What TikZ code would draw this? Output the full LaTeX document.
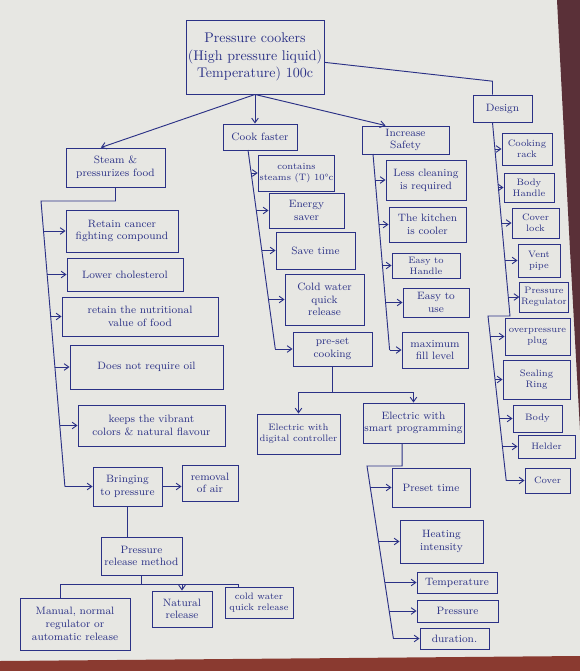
\documentclass[tikz,border=0pt]{standalone}
\usetikzlibrary{arrows.meta}
\definecolor{ink}{HTML}{2B3186}
\definecolor{paper}{HTML}{E7E7E3}
\definecolor{fabric}{HTML}{5A3038}
\definecolor{floor}{HTML}{8A3A30}
\tikzset{
  bx/.style={draw=ink, line width=0.7pt, inner sep=1pt, align=center, text=ink, font=\fontsize{8}{9.5}\selectfont},
  sm/.style={font=\fontsize{7}{8.2}\selectfont},
  big/.style={font=\fontsize{10.5}{13}\selectfont},
  ln/.style={draw=ink, line width=0.7pt},
  arr/.style={ln, -{Straight Barb[length=3.5pt,width=5pt]}},
}
\newcommand{\bx}[7][]{\node[bx,#1, minimum width={(#5-#3)*0.75pt}, minimum height={(#6-#4)*0.75pt}] (#2) at ({(#3+#5)/2},{(#4+#6)/2}) {#7};}
\begin{document}
\begin{tikzpicture}[x=0.75pt,y=-0.75pt]
\useasboundingbox (0,0) rectangle (580,671);
\fill[paper] (0,0) rectangle (580,671);
\fill[fabric] (557,0) -- (580,0) -- (580,430) -- (570,250) -- cycle;
\fill[floor] (0,661) -- (580,656) -- (580,671) -- (0,671) -- cycle;

% root and main branches
\bx[big]{root}{186}{20}{324}{94}{Pressure cookers\\(High pressure liquid)\\Temperature) 100c}
\bx{steam}{66}{148}{165}{187}{Steam \&\\pressurizes food}
\bx{cook}{223}{124}{297}{150}{Cook faster}
\bx{safe}{362}{126}{449}{154}{Increase\\Safety}
\bx{design}{473}{95}{532}{122}{Design}

\draw[arr] (root.south) -- (root.south |- cook.north);
\draw[arr] (root.south) -- ([xshift=-11pt]steam.north);
\draw[arr] (root.south) -- ([xshift=-15pt]safe.north);
\draw[ln] ([yshift=-4pt]root.east) -- ([xshift=-7.5pt,yshift=10pt]design.north) -- ([xshift=-7.5pt]design.north);

% steam branch
\bx{ret}{66}{210}{178}{252}{Retain cancer\\fighting compound}
\bx{chol}{67}{258}{183}{291}{Lower cholesterol}
\bx{nut}{62}{297}{218}{336}{retain the nutritional\\value of food}
\bx{oil}{70}{345}{223}{389}{Does not require oil}
\bx{vib}{78}{405}{225}{446}{keeps the vibrant\\colors \& natural flavour}
\bx{bring}{93}{467}{162}{506}{Bringing\\to pressure}
\bx{air}{182}{465}{238}{501}{removal\\of air}
\bx{prm}{101}{537}{182}{575}{Pressure\\release method}
\bx{man}{20}{598}{130}{650}{Manual, normal\\regulator or\\automatic release}
\bx{nat}{152}{591}{212}{627}{Natural\\release}
\bx[sm]{cold}{225}{587}{293}{618}{cold water\\quick release}

\coordinate (sA) at (41,201);
\coordinate (sB) at (64.9,486.5);
\coordinate (s1) at (43.5,231);
\coordinate (s2) at (47.1,274.5);
\coordinate (s3) at (50.7,316.5);
\coordinate (s4) at (54.9,367);
\coordinate (s5) at (59.8,425.5);
\draw[ln] (steam.south) |- (sA) -- (sB);
\draw[arr] (s1) -- (s1 -| ret.west);
\draw[arr] (s2) -- (s2 -| chol.west);
\draw[arr] (s3) -- (s3 -| nut.west);
\draw[arr] (s4) -- (s4 -| oil.west);
\draw[arr] (s5) -- (s5 -| vib.west);
\draw[arr] (sB) -- (sB -| bring.west);
\draw[arr] (bring.east) -- (bring.east -| air.west);
\draw[ln] (bring.south) -- (bring.south |- prm.north);

\coordinate (m1) at (60,584);
\coordinate (m2) at (238,584);
\draw[ln] (prm.south) -- (prm.south |- m1);
\draw[ln] (m1) -- (m2);
\draw[ln] (m1) -- (m1 |- man.north);
\draw[arr] (m1 -| nat.north) -- (nat.north);
\draw[ln] (m2) -- (m2 |- cold.north);

% cook faster branch
\bx[sm]{steams}{262}{155}{331}{191}{contains\\steams (T) 10°c}
\bx{energy}{269}{193}{344}{228}{Energy\\saver}
\bx{save}{276}{232}{355}{269}{Save time}
\bx{cwq}{285}{274}{364}{325}{Cold water\\quick\\release}
\bx{preset}{293}{332}{372}{366}{pre-set\\cooking}
\bx[sm]{dig}{257}{414}{340}{454}{Electric with\\digital controller}
\bx{smart}{365}{403}{462}{443}{Electric with\\smart programming}
\bx{ptime}{392}{468}{470}{507}{Preset time}
\bx{heat}{400}{520}{483}{563}{Heating\\intensity}
\bx{temp}{417}{572}{497}{593}{Temperature}
\bx{pres}{417}{600}{498}{622}{Pressure}
\bx{dur}{420}{628}{489}{649}{duration.}

\coordinate (cA) at (248,150);
\coordinate (c1) at (251.2,173);
\coordinate (c2) at (256.3,210.5);
\coordinate (c3) at (261.8,250.5);
\coordinate (c4) at (268.5,299.5);
\coordinate (c5) at (275.3,349);
\draw[ln] (cA) -- (c5);
\draw[arr] (c1) -- (c1 -| steams.west);
\draw[arr] (c2) -- (c2 -| energy.west);
\draw[arr] (c3) -- (c3 -| save.west);
\draw[arr] (c4) -- (c4 -| cwq.west);
\draw[arr] (c5) -- (c5 -| preset.west);

\coordinate (e1) at (0,392);
\draw[ln] (preset.south) -- (preset.south |- e1);
\draw[ln] (e1 -| dig.north) -- (e1 -| smart.north);
\draw[arr] (e1 -| dig.north) -- (dig.north);
\draw[arr] (e1 -| smart.north) -- (smart.north);

\coordinate (pA) at (367,466);
\coordinate (p1) at (370.3,487.5);
\coordinate (p2) at (378.5,541.5);
\coordinate (p3) at (384.8,582.5);
\coordinate (p4) at (389.2,611);
\coordinate (p5) at (393.4,638.5);
\draw[ln] ([xshift=-8.5pt]smart.south) |- (pA) -- (p5);
\draw[arr] (p1) -- (p1 -| ptime.west);
\draw[arr] (p2) -- (p2 -| heat.west);
\draw[arr] (p3) -- (p3 -| temp.west);
\draw[arr] (p4) -- (p4 -| pres.west);
\draw[arr] (p5) -- (p5 -| dur.west);

% safety branch
\bx{clean}{386}{160}{466}{200}{Less cleaning\\is required}
\bx{kitch}{389}{207}{466}{242}{The kitchen\\is cooler}
\bx[sm]{handle}{392}{253}{460}{278}{Easy to\\Handle}
\bx{use}{403}{288}{469}{317}{Easy to\\use}
\bx{fill}{402}{332}{468}{368}{maximum\\fill level}

\coordinate (fA) at (373,154);
\coordinate (f1) at (374.9,180);
\coordinate (f2) at (378.7,224.5);
\coordinate (f3) at (382.3,265.5);
\coordinate (f4) at (385.5,302.5);
\coordinate (f5) at (389.6,350);
\draw[ln] (fA) -- (f5);
\draw[arr] (f1) -- (f1 -| clean.west);
\draw[arr] (f2) -- (f2 -| kitch.west);
\draw[arr] (f3) -- (f3 -| handle.west);
\draw[arr] (f4) -- (f4 -| use.west);
\draw[arr] (f5) -- (f5 -| fill.west);

% design branch
\bx[sm]{rack}{502}{133}{552}{165}{Cooking\\rack}
\bx[sm]{bh}{504}{173}{554}{202}{Body\\Handle}
\bx[sm]{cl}{512}{208}{559}{238}{Cover\\lock}
\bx[sm]{vent}{518}{244}{560}{277}{Vent\\pipe}
\bx[sm]{reg}{520}{282}{568}{312}{Pressure\\Regulator}
\bx[sm]{plug}{505}{318}{570}{355}{overpressure\\plug}
\bx[sm]{ring}{503}{360}{570}{399}{Sealing\\Ring}
\bx[sm]{body}{513}{405}{562}{432}{Body}
\bx[sm]{held}{518}{435}{575}{458}{Helder}
\bx[sm]{cover}{525}{468}{570}{493}{Cover}

\coordinate (dB) at (510,316);
\coordinate (dC) at (488,316);
\coordinate (dD) at (506.2,480.5);
\coordinate (d1) at (494.5,149);
\coordinate (d2) at (498,187.5);
\coordinate (d3) at (501.4,223);
\coordinate (d4) at (504.9,260.5);
\coordinate (d5) at (508.2,297);
\coordinate (d6) at (490.2,336.5);
\coordinate (d7) at (494.9,379.5);
\coordinate (d8) at (499.4,418.5);
\coordinate (d9) at (502.5,446.5);
\draw[ln] ([xshift=-7.5pt]design.south) -- (dB) -- (dC) -- (dD);
\draw[arr] (d1) -- (d1 -| rack.west);
\draw[arr] (d2) -- (d2 -| bh.west);
\draw[arr] (d3) -- (d3 -| cl.west);
\draw[arr] (d4) -- (d4 -| vent.west);
\draw[arr] (d5) -- (d5 -| reg.west);
\draw[arr] (d6) -- (d6 -| plug.west);
\draw[arr] (d7) -- (d7 -| ring.west);
\draw[arr] (d8) -- (d8 -| body.west);
\draw[arr] (d9) -- (d9 -| held.west);
\draw[arr] (dD) -- (dD -| cover.west);
\end{tikzpicture}
\end{document}
